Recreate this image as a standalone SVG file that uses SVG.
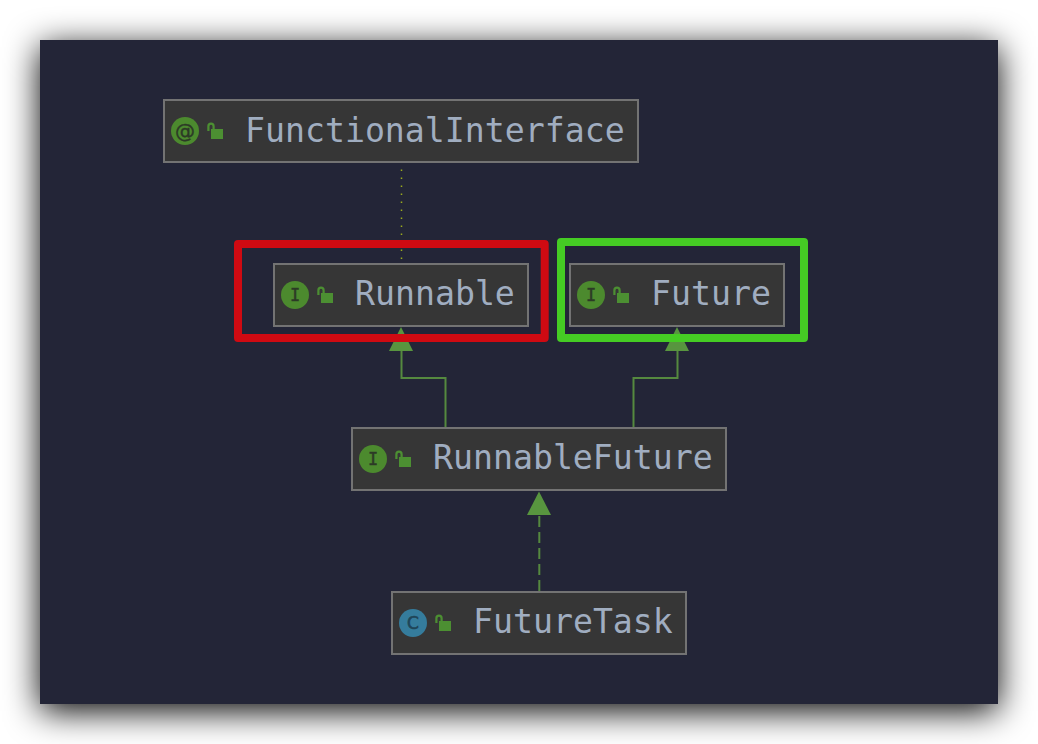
<svg xmlns="http://www.w3.org/2000/svg" width="1038" height="744" viewBox="0 0 1038 744">
<style>
.box{fill:#363636;stroke:#737373;stroke-width:2}
.t{font-family:"DejaVu Sans Mono",monospace;font-size:33.2px;fill:#a0adc0}
.g{font-family:"DejaVu Sans Mono",monospace;font-size:17px;fill:#2c3a26;stroke:#2c3a26;stroke-width:.4;text-anchor:middle}
.at{font-family:"DejaVu Sans",sans-serif;font-size:20px;fill:#2c3a26;stroke:#2c3a26;stroke-width:.4;text-anchor:middle}
.lk{fill:#4c8f32}
.sh{fill:none;stroke:#4c8f32;stroke-width:2.200}
.e{fill:none;stroke:#55893f;stroke-width:2}
.h{fill:#58953f}
</style>
<defs>
<filter id="s" x="-15%" y="-20%" width="130%" height="140%"><feGaussianBlur stdDeviation="17"/></filter>
<g id="lock"><rect class="lk" x="0" y="7" width="12" height="10"/><path class="sh" d="M-2.600 9V4.300a2.600 2.600 0 0 1 5.200 0V7"/></g>
</defs>
<rect width="1038" height="744" fill="#fff"/>
<rect x="40" y="47" width="958" height="664" fill="#000" filter="url(#s)"/>
<rect x="40" y="40" width="958" height="664" fill="#232537"/>
<g id="connectors">
<path d="M401.500 169.500V262" fill="none" stroke="#9aaa1e" stroke-width="1.500" stroke-dasharray="1.500 6.500"/>
<path class="e" d="M445.500 428V378H401.500V345"/>
<path class="h" d="M401 327L413 351H389Z"/>
<path class="e" d="M633.500 428V378H677.500V345"/>
<path class="h" d="M677 327L689 351H665Z"/>
<path class="e" d="M539.300 591V514" stroke-width="2.400" stroke-dasharray="11 5"/>
<path class="h" d="M539 491.500L551 515H527Z"/>
</g>
<g id="FunctionalInterface">
<rect class="box" x="164" y="100" width="474" height="62"/>
<circle cx="185" cy="131" r="14" fill="#4c8a2e"/>
<text class="at" x="185" y="137.500">@</text>
<use href="#lock" x="211" y="122"/>
<text class="t" x="245" y="142">FunctionalInterface</text>
</g>
<g id="Runnable">
<rect class="box" x="274" y="264" width="254" height="62"/>
<circle cx="295" cy="295" r="14" fill="#4c8a2e"/>
<text class="g" x="295" y="301">I</text>
<use href="#lock" x="321" y="286"/>
<text class="t" x="355" y="305">Runnable</text>
</g>
<g id="Future">
<rect class="box" x="570" y="264" width="214" height="62"/>
<circle cx="591" cy="295" r="14" fill="#4c8a2e"/>
<text class="g" x="591" y="301">I</text>
<use href="#lock" x="617" y="286"/>
<text class="t" x="651" y="305">Future</text>
</g>
<g id="RunnableFuture">
<rect class="box" x="352" y="428" width="374" height="62"/>
<circle cx="373" cy="459" r="14" fill="#4c8a2e"/>
<text class="g" x="373" y="465">I</text>
<use href="#lock" x="399" y="450"/>
<text class="t" x="433" y="469">RunnableFuture</text>
</g>
<g id="FutureTask">
<rect class="box" x="392" y="592" width="294" height="62"/>
<circle cx="413" cy="623" r="14" fill="#357c9c"/>
<text x="413" y="629" font-family="DejaVu Sans,sans-serif" font-size="17" fill="#1f4558" stroke="#1f4558" stroke-width=".6" text-anchor="middle">C</text>
<use href="#lock" x="439" y="614"/>
<text class="t" x="473" y="633">FutureTask</text>
</g>
<g id="highlights" fill="none" stroke-linejoin="round">
<rect x="238" y="244" width="306.700" height="94" stroke="#cf0a12" stroke-width="8"/>
<rect x="561" y="242" width="243" height="96" stroke="#45cc24" stroke-width="8"/>
</g>
</svg>
